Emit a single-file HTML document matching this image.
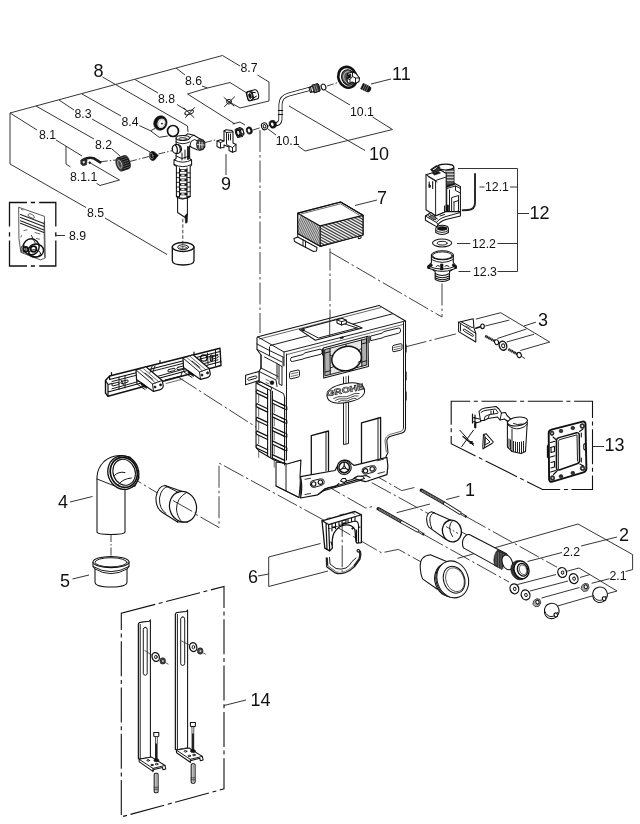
<!DOCTYPE html>
<html><head><meta charset="utf-8">
<style>
html,body{margin:0;padding:0;background:#fff;}
svg{display:block;filter:grayscale(1);}
text{font-family:"Liberation Sans",sans-serif;fill:#111;}
.s{font-size:12.3px;}
.b{font-size:18px;}
.l{fill:none;stroke:#2a2a2a;stroke-width:.95;}
.d{fill:none;stroke:#2a2a2a;stroke-width:.9;stroke-dasharray:22 3 2.5 3;}
.bx{fill:none;stroke:#111;stroke-width:1.1;stroke-dasharray:16 3 4 3;}
.p{fill:#fff;stroke:#111;stroke-width:1.05;stroke-linejoin:round;stroke-linecap:round;}
.n{fill:none;stroke:#111;stroke-width:.95;stroke-linejoin:round;stroke-linecap:round;}
.t{fill:none;stroke:#2a2a2a;stroke-width:.7;stroke-linejoin:round;stroke-linecap:round;}
.k{fill:#111;stroke:#111;stroke-width:.6;}
.g{fill:#999;stroke:#111;stroke-width:.7;}
</style></head><body>
<svg width="640" height="824" viewBox="0 0 640 824">
<rect width="640" height="824" fill="#fff"/>
<!--LEADERS-->
<g id="leaders" class="l">
<!-- 8 bracket -->
<path d="M10 164V113L222.500 55.500L240 66"/>
<path d="M257.500 75L269 82V101L240 108L226 100"/>
<path d="M10 113L37 130M56 140L82 156"/>
<path d="M66 146V164L70.500 167M96.500 183.300L100 185.500L119.500 180L90 162.800"/>
<path d="M36 106L94 139M112 149L120 156"/>
<path d="M59 100L74 110M92 119L150 152"/>
<path d="M82 94L121 116M139.400 125.600L150.600 130.800L155.400 128.200M150.600 130.800L159.200 137.300L167.800 136"/>
<path d="M135 79.500L158 93M177 104.500L186 110"/>
<path d="M102.500 77L187.500 126L188 132"/>
<path d="M10 164L86 207.500M105 218L167 254.500"/>
<path d="M176 68L185 75M202 86L207.500 88L230 82.500L246 92.500M207.500 88L187.500 94L235 124M232.500 124L240 122L245 125"/>
<path d="M226 154V175"/>
<path d="M55.800 235.500H65"/>
<!-- 10 -->
<path d="M268 129L276 135M298 146L305 151L392.500 129.500L372.500 117M350 105L325.500 90.500"/>
<path d="M289 106L365 150.500"/>
<path d="M371 84L391 79"/>
<path d="M355 205.500L377 200"/>
<!-- 12 -->
<path d="M458 168.500H517.500V271.500H497.500M517.500 213.500H529M479.500 187H484.500M510 187H517.500M497.500 243.500H517.500"/>
<path d="M457 243.500H470.300M458.500 271.500H470.300"/>
<!-- 3 -->
<path d="M475.800 319.100L500.700 312.700L549.700 342L520.400 350.500M509.300 320.100L485.200 326M523.900 326L535.900 322.200M526.500 329L497.300 338.500M534.200 334.200L506.700 342"/>
<!-- 13 -->
<path d="M592.500 446.500H604"/>
<!-- 4,5,6,14 -->
<path d="M70 502L92.500 496.500M72.500 579L89 575"/>
<path d="M258 576L268.700 574M320.500 543.500L268.700 557V586.500L328 571"/>
<path d="M224 705.500L246 700"/>
<!-- 1 -->
<path d="M459.400 496.200L446.200 499.600M430 504L396.600 512.700"/>
<!-- 2 -->
<path d="M617 537L581 546M562 552.500L527.500 561.500"/>
<path d="M457.500 558.400L578 524L632.600 554.500V569.600L625.500 571.500"/>
<path d="M579 568L617 591L608 593.500M579 568L566 571.500M590 574.500L580 577.500M609.500 578.700L591.600 583.300"/>
<path d="M556 574.500L517.500 584.500M568 581L530 591M579.500 587.500L541.500 598M592 596L557.500 606"/>
</g>
<!--LABELS-->
<g id="labels">
<text class="b" x="93.500" y="77">8</text>
<text class="s" x="39" y="139">8.1</text>
<text class="s" x="95" y="148.500">8.2</text>
<text class="s" x="74.500" y="118">8.3</text>
<text class="s" x="121.500" y="125.500">8.4</text>
<text class="s" x="70" y="180.500">8.1.1</text>
<text class="s" x="87" y="216.500">8.5</text>
<text class="s" x="185" y="84.500">8.6</text>
<text class="s" x="240.500" y="72">8.7</text>
<text class="s" x="158" y="103">8.8</text>
<text class="s" x="69" y="240">8.9</text>
<text class="b" x="221" y="190">9</text>
<text class="s" x="275.700" y="144.500">10.1</text>
<text class="s" x="350" y="115.500">10.1</text>
<text class="b" x="369" y="160">10</text>
<text class="b" x="392" y="80">11</text>
<text class="b" x="377" y="203.500">7</text>
<text class="b" x="529.500" y="218.500">12</text>
<text class="s" x="485" y="191">12.1</text>
<text class="s" x="472" y="248">12.2</text>
<text class="s" x="473" y="276">12.3</text>
<text class="b" x="538" y="326">3</text>
<text class="b" x="604.500" y="451">13</text>
<text class="b" x="58" y="508">4</text>
<text class="b" x="60" y="586.500">5</text>
<text class="b" x="248" y="582.500">6</text>
<text class="b" x="250.500" y="705.500">14</text>
<text class="b" x="465" y="496">1</text>
<text class="b" x="619" y="541">2</text>
<text class="s" x="563" y="556">2.2</text>
<text class="s" x="609.500" y="579.500">2.1</text>
</g>
<!--BOXES-->
<g id="boxes">
<path class="bx" style="stroke-dasharray:none;stroke-width:1.300" d="M9.500 226.600V202.500H27M30.800 202.500H35M39.200 202.500H55.800V226.600M55.800 232.200V236.400M55.800 240.600V266H39.200M35 266H30.800M27 266H9.500V240.600M9.500 236.400V232.200"/>
<path class="bx" style="stroke-dasharray:35 3.600 4 3.700;stroke-dashoffset:16" d="M451.200 401.300H592.500V489.500H542.500L451.200 443.700Z"/>
<path class="bx" style="stroke-dasharray:35 3.600 4 3.700" d="M121.300 613.200L224 586.500V788.800L121.300 816.900Z"/>
</g>
<!--AXES-->
<g id="axes" class="d">
<path d="M100.800 161.700L116 160M130 161.400L149 156.500M158.300 154L173 150.500" style="stroke-dasharray:7 2 1.500 2"/>
<path d="M205 142.500L217 139.500M253 130L261 127.500M268 126L270 125.500M327 86L338 82.500" style="stroke-dasharray:7 2 1.500 2"/>
<path d="M260 130V333"/>

<path d="M330 248.500V336"/>
<path d="M330 252L442 317"/>
<path d="M442 283.500V317"/>
<path d="M405 347L457.500 333.500"/>
<path d="M521.300 356.200L525 358.600" style="stroke-dasharray:none"/>
<path d="M178 377L256 427"/>
<path d="M122.500 472L160 494.500"/>
<path d="M174 502L219 527.500V463L342 530L381.500 552.800L398.400 549.400L453 579.500"/>
<path d="M111 534V562" style="stroke-dasharray:8 2 1.500 2"/>
<path d="M342.200 514.800V574"/>
<path d="M367.500 471L401.700 490.600L416.600 487"/>
<path d="M321 482.500L365.800 508.100L373.600 506.300"/>
<path d="M345 468L480 542"/>
<path d="M466.300 516.700L557 567.200"/>
<path d="M423.700 534.500L509 582"/>
</g>
<!-- 10_tank.svg -->
<g id="tank">
<path class="p" d="M276 462V486L299 497.500L301 476L301 460L287 463.500Z"/>
<path class="n" d="M286 464V491M276 486L286 491L299 497.500"/>
<path class="p" d="M257 339Q256.500 337 259 336.600L379 305.400L405.500 321V427.500Q405.500 432 402 433L391.500 436Q387 437.300 386.800 441L388 452.500L386 456.500L387 473L301 497L300 476L301 460L287 464L274 460L259 451L256 447.500V383L259 381V371.400L261 368V355L257 349.500Z"/>
<path class="n" d="M258 337L284 352L405.200 321"/>
<path class="n" d="M270.300 345.500L392.500 313.800"/>
<path class="t" d="M259.500 339L381 307.500"/>
<path class="n" d="M257 349.500L268 355L282 362M269.500 347V355.500M257 344L269.500 350.500L283 357"/>
<path class="n" d="M284 352V366M286.500 354V460M283 357V365.500"/>
<path class="t" d="M287 354.500L403 324.500"/>
<path class="n" d="M403.500 322.500V428"/>
<path class="p" d="M299.400 329.600L339.700 318.800L362.200 328.100L315.300 340.300Z"/>
<path class="n" d="M303.500 330.200L318.500 338L357 328M337 321L346.500 324.500L358.500 328.500M303.500 330.200L301.500 329.800"/>
<path class="p" d="M337 319.800L342 318.300L346.300 320.200V323.500L341.500 325L337 323Z"/>
<path class="n" d="M337 319.800L341.500 321.700L346.300 320.200M341.500 321.700V325"/>
<path class="k" d="M301.500 330L304.500 329.300L304 331.300ZM340 337.500L343 336.700L343.500 338L340.500 338.800Z"/>
<path class="d" d="M329.700 318V336.600"/>
<path class="p" d="M323.300 348L368 336.300L368.400 366.400L323.700 378Z"/>
<path class="g" style="fill:#e6e6e6;stroke:none" d="M325 349.500L366.500 338.700L366.800 365L325.300 375.800Z"/>
<path class="g" style="fill:#b0b0b0;stroke:none" d="M325 349.500L330 348.200L330.300 374.500L325.300 375.800ZM361.500 340L366.500 338.700L366.800 365L361.800 366.300Z"/>
<path class="n" d="M325 349.500L366.500 338.700L366.800 365L325.300 375.800Z"/>
<path class="n" d="M330 348.200L330.300 374.500M361.500 340L361.800 366.300M325 353L330 351.700M325.200 372L330.200 370.700M361.600 344L366.600 342.700M361.700 362L366.700 360.700"/>
<ellipse class="p" style="stroke-width:1.500" cx="346.600" cy="358.600" rx="15" ry="12" transform="rotate(-15 346.600 358.600)"/>
<path class="n" d="M330.200 355L333 356.500M361.600 348L358.500 351M330.300 368L334 366.500M361.700 360L358 362.500M346 346.500V344.500"/>
<path class="n" d="M366.700 336.700V343M369.200 336V342.500M322.500 349V355"/>
<path class="n" d="M291.500 357.500L303 354.500L305 352.800L320 349.200Q322 349 322 351L322 352.500Q322 354 320 354.500L305 358.200L303 359L292.500 361.500Q290.500 361.800 290.500 359.800Q290.300 358 291.500 357.500Z"/>
<path class="n" d="M371 336L382 333.200L384 331.500L398.500 328Q400.500 327.800 400.500 329.800L400.500 331Q400.500 332.800 398.500 333.300L384 337L382 338L371 340.600Z"/>
<path class="n" d="M289.500 373Q289.500 372 291 371.600L298 370Q299.500 369.800 299.500 371.200V375.500Q299.500 376.800 298 377.200L291 378.800Q289.500 379 289.500 377.800Z"/>
<path class="t" d="M291 374L298 372.300M291 376.500L298 374.800"/>
<path class="n" d="M392.600 346.500Q392.600 345.500 394 345.200L400.500 343.700Q402 343.500 402 344.800V348.500Q402 349.800 400.500 350.200L394 351.700Q392.600 352 392.600 350.800Z"/>
<path class="t" d="M394 347.500L400.500 346M394 349.700L400.500 348.200"/>
<path class="n" d="M343.500 377V385M348.500 376V384M343.500 402.500V444.500L348.500 443.500V401.500"/>
<path class="t" d="M346 376.500V384.500M346 402V444"/>
<g transform="translate(345.800 393) rotate(-11)">
<path class="p" d="M-19 0C-19 -6 -12 -9.500 0 -9.500C12 -9.500 19 -6 19 0C19 6 12 9.500 0 9.500C-12 9.500 -19 6 -19 0Z"/>
<text x="0" y="-.2" text-anchor="middle" style="font-size:8.3px;font-weight:bold;fill:#ddd;stroke:#111;stroke-width:.6;letter-spacing:.1px" transform="scale(1.22 1)">GROHE</text>
<path class="t" style="stroke:#111;stroke-width:.7" d="M-13 3Q-8 1.300 -4 3T4.500 3T13 3M-11.500 5.200Q-7.500 3.700 -4 5.200T4 5.200T11.500 5.200M-9 7.300Q-5.500 5.900 -3 7.300T3.500 7.300T9 7.300"/>
</g>
<path class="n" style="stroke-width:1.300" d="M311.300 476V435.600L328.500 431V470.500"/>
<path class="n" d="M326 431.800V471"/>
<path class="n" style="stroke-width:1.300" d="M361.500 463V422.800L380.600 417.500V458"/>
<path class="n" d="M378 418.300V458.500"/>
<path class="t" d="M403.500 428Q403.500 430.500 401 431.300L390.500 434.300Q385.200 436 385 441L386.300 452"/>
<path class="t" d="M406.500 345V352M406.500 372V380M406.500 392V400"/>
<path class="n" d="M261 355V368M264.500 357L277 363.500V379M261 368L278 376.500M259 371.400L276 380L277 386.500M259 381L271.500 387.500"/>
<path class="n" d="M279 365V384L282 385.500V366.500M277 363.500L282 366.500"/>
<path class="p" d="M245.600 375.300L259 371.400V380.600L245.600 384.800Z"/>
<path class="n" d="M248.500 378Q247.300 378.600 247.700 379.600Q248 380.600 249.300 380.200L256 378.200Q257.200 377.700 256.900 376.700Q256.500 375.700 255.300 376Z"/>
<circle class="k" cx="272" cy="382.700" r="1.900"/>
<path class="t" d="M266 379.500L270 381.500M266 382.500L269 384"/>
<path class="n" style="stroke-width:1.100" d="M257 383.500L267.600 389V455.800M270.700 390.500V457.500M272.400 391.300V458.300M284.600 397.500V464.900"/>
<path class="n" d="M257 383.500L261 382L272 387.500L270.700 390.500M272 387.500L283.500 393.500L284.600 397.500M267.600 389L270.700 390.500"/>
<path class="n" style="stroke-width:1.200" d="M257 390.0L267.600 395.0M257 393.4L267.600 398.4"/>
<path class="t" d="M258.700 394.4V402.6"/>
<path class="n" d="M257 390.0L256.200 391.7L257 393.4"/>
<path class="n" style="stroke-width:1.200" d="M257 403.7L267.600 408.7M257 407.1L267.600 412.1"/>
<path class="t" d="M258.700 408.1V416.3"/>
<path class="n" d="M257 403.7L256.200 405.4L257 407.1"/>
<path class="n" style="stroke-width:1.200" d="M257 417.4L267.600 422.4M257 420.8L267.600 425.8"/>
<path class="t" d="M258.700 421.8V430.0"/>
<path class="n" d="M257 417.4L256.200 419.1L257 420.8"/>
<path class="n" style="stroke-width:1.200" d="M257 431.1L267.600 436.1M257 434.5L267.600 439.5"/>
<path class="t" d="M258.700 435.5V443.7"/>
<path class="n" d="M257 431.1L256.200 432.8L257 434.5"/>
<path class="n" style="stroke-width:1.200" d="M257 444.8L267.600 449.8M257 448.2L267.600 453.2"/>
<path class="t" d="M258.700 449.2V457.4"/>
<path class="n" d="M257 444.8L256.200 446.5L257 448.2"/>
<path class="n" style="stroke-width:1.200" d="M272.400 399.8L284.600 405.6M272.400 403.2L284.600 409.0"/>
<path class="t" d="M274.200 404.2V412.4"/>
<path class="n" d="M280.500 403.7L286.900 406.5V410.0L282 407.8"/>
<path class="n" style="stroke-width:1.200" d="M272.400 413.5L284.600 419.3M272.400 416.9L284.600 422.7"/>
<path class="t" d="M274.200 417.9V426.1"/>
<path class="n" d="M280.500 417.4L286.900 420.2V423.7L282 421.5"/>
<path class="n" style="stroke-width:1.200" d="M272.400 427.2L284.600 433.0M272.400 430.6L284.600 436.4"/>
<path class="t" d="M274.200 431.6V439.8"/>
<path class="n" d="M280.500 431.1L286.900 433.9V437.4L282 435.2"/>
<path class="n" style="stroke-width:1.200" d="M272.400 440.9L284.600 446.7M272.400 444.3L284.600 450.1"/>
<path class="t" d="M274.200 445.3V453.5"/>
<path class="n" d="M280.500 444.8L286.900 447.6V451.1L282 448.9"/>
<path class="n" style="stroke-width:1.200" d="M272.400 454.6L284.600 460.4M272.400 458.0L284.600 463.8"/>
<path class="t" d="M274.200 459.0V467.2"/>
<path class="p" style="stroke-width:1.200" d="M300.500 476.600L335 470.500L338 465Q340 460.500 344.500 460Q349.500 460 352 464L354.300 465.400L386.900 457.300L387.900 466.400L386.900 474.600L365.500 481.700L357.400 479.600L337 485.700L324.900 488.800L317.800 494.900L300.500 498Q303 487 300.500 476.600Z"/>
<circle class="p" style="stroke-width:1.200" cx="344.200" cy="467.400" r="7"/>
<circle class="n" style="stroke-width:1.500" cx="344.200" cy="467.400" r="5.300"/>
<circle class="n" cx="344.200" cy="467.400" r="1.300"/>
<path class="n" style="stroke-width:1.200" d="M344.200 466.200L344.200 462.500M343.200 468L340 470M345.200 468L348.400 470"/>
<path class="n" d="M310.500 485Q309.500 481.500 313 480.600L320.500 478.800Q323.800 478.300 324.300 481.500Q324.600 484.500 321.500 485.400L314 487.400Q311 487.800 310.500 485Z"/>
<circle class="n" style="stroke-width:1.100" cx="313.700" cy="484" r="2.200"/><circle class="n" style="stroke-width:1.100" cx="320.400" cy="482.200" r="2.200"/>
<path class="n" d="M362.300 471.800Q361.300 468.300 364.800 467.400L372.300 465.600Q375.600 465.100 376.100 468.300Q376.400 471.300 373.300 472.200L365.800 474.200Q362.800 474.600 362.300 471.800Z"/>
<circle class="n" style="stroke-width:1.100" cx="365.500" cy="470.800" r="2.200"/><circle class="n" style="stroke-width:1.100" cx="372.200" cy="468.900" r="2.200"/>
<path class="t" style="stroke-width:1;stroke:#333" d="M305 479.300L310.500 478.300M305 494.500L310.500 493.500M377 460.800L383.500 459.200M378 473.500L384.500 471.800"/>
<path class="p" d="M340.500 481L342.500 478.500L345.500 478.500L346.500 481L344 482.500Z"/>
<path class="n" style="stroke-width:1.100" d="M318 494.500L324.500 490L328.500 487.500L335 487L339 483.500M346.500 481L352.500 479.500L356 477L366 475.500L370 477.500"/>
<path class="p" d="M354 478.500L358 476L363 476.500L364.500 478.500L360 480Z"/>
</g>
<!-- 20_p7.svg -->
<g id="p7">
<defs><clipPath id="c7l"><path d="M297.700 213.200L320.200 225.900V246.300L297.700 233.600Z"/></clipPath>
<clipPath id="c7f"><path d="M320.200 225.900L363 215.300V235L320.200 246.300Z"/></clipPath></defs>
<path class="p" d="M294 238.500L297.700 237L317 247.500L316.500 251L313.500 251.500L294.500 241.500Z"/>
<path class="n" d="M303 239.500V245.500M305.500 241V247M297.700 233.600V237"/>
<path class="p" d="M358 236.500L361 235.500V238L358.500 238.800Z"/>
<path class="p" d="M297.700 213.200L340.600 202L363 215.300V235L320.200 246.300L297.700 233.600Z"/>
<g clip-path="url(#c7l)"><rect x="295" y="210" width="28" height="40" fill="#d8d8d8"/>
<path d="M286.0 250L304.0 210" stroke="#333" stroke-width=".7"/>
<path d="M287.9 250L305.9 210" stroke="#333" stroke-width=".7"/>
<path d="M289.8 250L307.8 210" stroke="#333" stroke-width=".7"/>
<path d="M291.7 250L309.7 210" stroke="#333" stroke-width=".7"/>
<path d="M293.6 250L311.6 210" stroke="#333" stroke-width=".7"/>
<path d="M295.5 250L313.5 210" stroke="#333" stroke-width=".7"/>
<path d="M297.4 250L315.4 210" stroke="#333" stroke-width=".7"/>
<path d="M299.3 250L317.3 210" stroke="#333" stroke-width=".7"/>
<path d="M301.2 250L319.2 210" stroke="#333" stroke-width=".7"/>
<path d="M303.1 250L321.1 210" stroke="#333" stroke-width=".7"/>
<path d="M305.0 250L323.0 210" stroke="#333" stroke-width=".7"/>
<path d="M306.9 250L324.9 210" stroke="#333" stroke-width=".7"/>
<path d="M308.8 250L326.8 210" stroke="#333" stroke-width=".7"/>
<path d="M310.7 250L328.7 210" stroke="#333" stroke-width=".7"/>
<path d="M312.6 250L330.6 210" stroke="#333" stroke-width=".7"/>
<path d="M314.5 250L332.5 210" stroke="#333" stroke-width=".7"/>
<path d="M316.4 250L334.4 210" stroke="#333" stroke-width=".7"/>
<path d="M318.3 250L336.3 210" stroke="#333" stroke-width=".7"/>
<path d="M320.2 250L338.2 210" stroke="#333" stroke-width=".7"/>
<path d="M322.1 250L340.1 210" stroke="#333" stroke-width=".7"/>
<path d="M324.0 250L342.0 210" stroke="#333" stroke-width=".7"/>
<path d="M325.9 250L343.9 210" stroke="#333" stroke-width=".7"/>
<path d="M327.8 250L345.8 210" stroke="#333" stroke-width=".7"/>
<path d="M329.7 250L347.7 210" stroke="#333" stroke-width=".7"/>
<path d="M331.6 250L349.6 210" stroke="#333" stroke-width=".7"/>
<path d="M333.5 250L351.5 210" stroke="#333" stroke-width=".7"/>
<path d="M335.4 250L353.4 210" stroke="#333" stroke-width=".7"/>
<path d="M337.3 250L355.3 210" stroke="#333" stroke-width=".7"/>
<path d="M339.2 250L357.2 210" stroke="#333" stroke-width=".7"/>
<path d="M341.1 250L359.1 210" stroke="#333" stroke-width=".7"/>
<path d="M343.0 250L361.0 210" stroke="#333" stroke-width=".7"/>
<path d="M344.9 250L362.9 210" stroke="#333" stroke-width=".7"/>
<path d="M346.8 250L364.8 210" stroke="#333" stroke-width=".7"/>
<path d="M348.7 250L366.7 210" stroke="#333" stroke-width=".7"/>
<path d="M350.6 250L368.6 210" stroke="#333" stroke-width=".7"/>
<path d="M352.5 250L370.5 210" stroke="#333" stroke-width=".7"/>
<path d="M354.4 250L372.4 210" stroke="#333" stroke-width=".7"/>
<path d="M356.3 250L374.3 210" stroke="#333" stroke-width=".7"/>
<path d="M358.2 250L376.2 210" stroke="#333" stroke-width=".7"/>
<path d="M360.1 250L378.1 210" stroke="#333" stroke-width=".7"/>
</g>
<g clip-path="url(#c7f)"><rect x="318" y="212" width="48" height="38" fill="#f4f4f4"/>
<path d="M236.0 205L327.0 255" stroke="#444" stroke-width="1.25"/>
<path d="M241.3 205L332.3 255" stroke="#444" stroke-width="1.25"/>
<path d="M246.6 205L337.6 255" stroke="#444" stroke-width="1.25"/>
<path d="M251.9 205L342.9 255" stroke="#444" stroke-width="1.25"/>
<path d="M257.2 205L348.2 255" stroke="#444" stroke-width="1.25"/>
<path d="M262.5 205L353.5 255" stroke="#444" stroke-width="1.25"/>
<path d="M267.8 205L358.8 255" stroke="#444" stroke-width="1.25"/>
<path d="M273.1 205L364.1 255" stroke="#444" stroke-width="1.25"/>
<path d="M278.4 205L369.4 255" stroke="#444" stroke-width="1.25"/>
<path d="M283.7 205L374.7 255" stroke="#444" stroke-width="1.25"/>
<path d="M289.0 205L380.0 255" stroke="#444" stroke-width="1.25"/>
<path d="M294.3 205L385.3 255" stroke="#444" stroke-width="1.25"/>
<path d="M299.6 205L390.6 255" stroke="#444" stroke-width="1.25"/>
<path d="M304.9 205L395.9 255" stroke="#444" stroke-width="1.25"/>
<path d="M310.2 205L401.2 255" stroke="#444" stroke-width="1.25"/>
<path d="M315.5 205L406.5 255" stroke="#444" stroke-width="1.25"/>
<path d="M320.8 205L411.8 255" stroke="#444" stroke-width="1.25"/>
<path d="M326.1 205L417.1 255" stroke="#444" stroke-width="1.25"/>
<path d="M331.4 205L422.4 255" stroke="#444" stroke-width="1.25"/>
<path d="M336.7 205L427.7 255" stroke="#444" stroke-width="1.25"/>
<path d="M342.0 205L433.0 255" stroke="#444" stroke-width="1.25"/>
<path d="M347.3 205L438.3 255" stroke="#444" stroke-width="1.25"/>
<path d="M352.6 205L443.6 255" stroke="#444" stroke-width="1.25"/>
<path d="M357.9 205L448.9 255" stroke="#444" stroke-width="1.25"/>
<path d="M363.2 205L454.2 255" stroke="#444" stroke-width="1.25"/>
<path d="M368.5 205L459.5 255" stroke="#444" stroke-width="1.25"/>
<path d="M373.8 205L464.8 255" stroke="#444" stroke-width="1.25"/>
<path d="M379.1 205L470.1 255" stroke="#444" stroke-width="1.25"/>
<path d="M384.4 205L475.4 255" stroke="#444" stroke-width="1.25"/>
<path d="M389.7 205L480.7 255" stroke="#444" stroke-width="1.25"/>
</g>
<path class="n" style="stroke-width:1.2" d="M297.700 213.200L340.600 202L363 215.300L320.200 225.900ZM297.700 213.200V233.600L320.200 246.300L363 235V215.300M320.200 225.900V246.300"/>
<path class="t" d="M301 214L340.500 203.800L359.500 215.200"/>
</g>
<!-- 21_p12.svg -->
<g id="p12">
<!-- L rod -->
<path class="n" style="stroke-width:1.900;stroke:#222" d="M475 174V203Q475 209.500 468 210L462.600 210.300"/>
<!-- right lower box -->
<path class="p" d="M446.700 184L451 181.500L460.400 186.500V214L446.700 218Z"/>
<path class="n" d="M446.700 188.500L455.500 186L460.400 188.500M455.500 186V190.500L460.400 193"/>
<path class="k" d="M447 185L451 182.500L455 184.600L447 187.200Z"/>
<path class="n" d="M449.500 190V213M452 197.500L458.500 195.500V211L452 213ZM454 202L458.500 200.500M454 202V212"/>
<path class="k" d="M447 205H448.500V217H447Z"/>
<!-- cylinder -->
<path class="p" d="M437.400 167V183.500Q445.600 187 453.800 183.500V167Z"/>
<path class="g" style="fill:#555" d="M446 168.500H453.800V184L446 185.500Z"/>
<path d="M446 171.300H453.800M446 174.300H453.800M446 177.300H453.800M446 180.300H453.800" stroke="#eee" stroke-width="1.1" fill="none"/>
<ellipse class="p" cx="445.600" cy="167" rx="8.200" ry="2.900"/>
<!-- top clip -->
<path class="g" style="fill:#444" d="M430.500 169.500L436.500 165.500L440 167L439.500 170L441 171.500L437 174L433 172.500Z"/>
<path class="p" d="M431.500 169.800L436.500 166.500L438.500 167.500L433.500 171Z"/>
<!-- main box -->
<path class="p" d="M426 174.700L440.800 170.300L446.200 173.500V211.500L435.600 216L426 209.700Z"/>
<path class="n" d="M426 174.700L435.600 180.500L446.200 177M435.600 180.500V216M428 176.500L437 182"/>
<path class="k" d="M432.500 173.500L438.500 171.800L440.500 173L434.500 175Z"/>
<path class="n" style="stroke-width:1.1" d="M429.200 182V187.500M432.700 181.500V188.500"/>
<path class="k" d="M429 184.500L430.500 185.200V187.300L429 186.600Z"/>
<path class="n" d="M446.200 205V213.500M444.500 206V214"/>
<!-- base -->
<path class="p" d="M425.400 216L431 212.500L435.600 216L446.200 211.500L460.400 211.600V216L446 219.500Q440 221.500 438 224.500L436.900 226.900L425.400 220.300Z"/>
<path class="n" d="M425.400 216L436.500 222.500L438 224.500M436.500 222.500Q439 218.500 446 216.500L460.400 212.500M428 215.500L436 220M430 214.500L437.500 219M440 216L444.500 214.500"/>
<path class="g" style="fill:#777" d="M429 216.800L432 215L436 217.500L434 219.800Z"/>
<!-- connector -->
<path class="p" d="M437 226.500Q442 224 447.500 226.500L448.400 228V232.500Q442 236.500 435.800 232.500V228Z"/>
<path class="k" d="M437.500 227.500Q442 225.500 447 227.500V229.500Q442 231.500 437.500 229.500Z"/>
<path class="n" d="M435.800 230.500Q442 234.500 448.400 230.500"/>
<!-- washer 12.2 -->
<ellipse class="p" cx="442.100" cy="243" rx="9.600" ry="4"/>
<ellipse class="n" cx="442.100" cy="243.200" rx="5" ry="1.900"/>
<!-- 12.3 -->
<path class="p" d="M431.400 255.300V262.500L428 266L427.600 268L432.500 269.500L435.200 271.500V279.500Q442.300 283.500 449.500 279.500V271.500L452.500 269.500L456.600 268L456.200 266L453.300 262.500V255.300Z"/>
<ellipse class="p" cx="442.400" cy="255.300" rx="11" ry="4.500"/>
<ellipse class="n" cx="442.400" cy="255.600" rx="9.800" ry="3.700"/>
<path class="n" d="M431.400 259.500Q442.400 265.500 453.300 259.500M428 266Q442 272.500 456.200 266M432.500 269.500Q442.300 273.500 452.500 269.500"/>
<path class="k" d="M427.600 266.500L431.500 263.500L432.500 265.500L428.500 268.500ZM456.600 266.500L453 263.500L452 265.500L455.800 268.500ZM440.500 264H443V270H440.500Z"/>
<path class="n" style="stroke-width:1.100" d="M435.200 273.500Q442.300 277.500 449.500 273.500M435.200 275.700Q442.300 279.700 449.500 275.700M435.200 277.800Q442.300 281.800 449.500 277.800"/>
<path class="n" d="M436 266.500Q437.500 264.500 439.500 266M445 266Q447 264.500 449 266.500"/>
</g>

<!-- 30_p8.svg -->
<g id="p8">
<path class="n" style="stroke-width:2.600;stroke:#1a1a1a" d="M83.500 160Q88 156.800 93.500 158.200L100.300 162.300"/>
<path class="k" style="fill:#2a2a2a" d="M80.800 160L84.500 158L87 160L86.500 164.800L83 165.800L80.800 164Z"/>
<path d="M82.500 161.500L84.500 160.800L84.800 163L83 163.600Z" fill="#ddd"/>
<circle class="k" cx="89.700" cy="162.700" r=".9"/>
<g transform="rotate(-18 123 163.300)">
<path class="k" d="M119.500 156.300H126.500Q130 156.300 130 163.300Q130 170.300 126.500 170.300H119.500Z"/>
<ellipse class="g" style="fill:#444" cx="119.500" cy="163.300" rx="3.300" ry="7"/>
<ellipse class="n" style="stroke:#ddd;stroke-width:.6" cx="119.700" cy="163.300" rx="1.800" ry="4.200"/>
<path d="M122 157.6H129" stroke="#999" stroke-width=".5"/>
<path d="M122 159.8H129" stroke="#999" stroke-width=".5"/>
<path d="M122 162.0H129" stroke="#999" stroke-width=".5"/>
<path d="M122 164.2H129" stroke="#999" stroke-width=".5"/>
<path d="M122 166.4H129" stroke="#999" stroke-width=".5"/>
<path d="M122 168.6H129" stroke="#999" stroke-width=".5"/>
</g>
<path class="k" d="M150 152.500Q152 150.500 154.500 152L158.300 155.500L154.500 160Q152.500 161.500 150.500 159.500Q148.300 156 150 152.500Z"/>
<ellipse class="n" style="stroke:#bbb;stroke-width:.5" cx="151.500" cy="156" rx="1.500" ry="3" transform="rotate(-15 151.500 156)"/>
<ellipse class="k" cx="160.400" cy="123" rx="6.600" ry="7.300" transform="rotate(20 160.400 123)"/>
<ellipse class="p" cx="161.400" cy="123.300" rx="4.500" ry="5.400" transform="rotate(20 161.400 123.300)"/>
<ellipse class="n" style="stroke:#888;stroke-width:.5" cx="161.600" cy="123.400" rx="3.200" ry="4" transform="rotate(20 161.600 123.400)"/>
<circle class="k" cx="162" cy="123.600" r=".7"/>
<circle class="n" style="stroke-width:1.700" cx="173" cy="131" r="5.500"/>
<path class="n" d="M185 114Q184 112 186.500 111.300L191.500 110Q194 109.700 193.500 111.800Q193 113.500 191 113.800L187 115Q185.500 115.300 185 114Z"/>
<path class="n" style="stroke-width:.9" d="M184 108L194 117.500M194.500 107.500L185.500 117.500"/>
<circle class="n" cx="229" cy="101.700" r="2.400"/>
<path class="n" style="stroke-width:.9" d="M224 97.500L234 106M234.500 97L224.500 106.500"/>
<g transform="rotate(-15 252.500 95.300)">
<path class="p" d="M247 92Q247 90.500 249 90.500H256Q258.500 90.500 258.500 95.300Q258.500 100 256 100H249Q247 100 247 98.500Z"/>
<ellipse class="n" cx="249.700" cy="95.300" rx="2.600" ry="4.600"/>
<ellipse class="k" cx="249.900" cy="95.300" rx="1.300" ry="2.600"/>
<path class="n" d="M250 91L256 93.500M250 99.500L256 97M253 90.500V100"/>
</g>
<path class="p" d="M176.100 138V158.500L174 160V164.800L176.400 166.300V196.500L177.600 198V212.500L185.200 217.500L187.400 214.500V198L190.200 196.500V166.300L191.600 164.800V160L189.600 158.500V146L192 147.500L197 149.800L200 150.300L203 149.500L204.800 147V142L203.400 140.200L198.400 138L194 135.200L187.500 133.800L185.500 135.300Z"/>
<ellipse class="p" cx="182.800" cy="138" rx="6.700" ry="2.500"/>
<ellipse class="n" cx="182.800" cy="139" rx="4.200" ry="1.300"/>
<path class="n" d="M176.100 142Q182.800 145.500 189.600 142M189.600 138.500Q191 135.500 194 135.200M190 146L191 141.500L194.500 139.500L197.500 141"/>
<path class="g" style="fill:#444" d="M197.500 140L200.500 139.500L203.400 141L204.500 143.500L204.500 147L202.500 149.300L199.500 149.800L197 148L196.500 144Z"/>
<path d="M199.500 141.500V148.500M202 142V148.500M197 144.500L204.500 145" stroke="#fff" stroke-width=".7" fill="none"/>
<circle class="p" style="stroke-width:1.300" cx="176.800" cy="148.900" r="4.600"/>
<path class="n" style="stroke-width:1.200" d="M175.300 145Q178.300 148 177 153M178.500 144.800Q181.200 148 180 152"/>
<path class="n" d="M176.100 156L182 158.500L189.600 156M182 153V160M185 150V159"/>
<path class="n" style="stroke-width:1.800" d="M188 147V159"/>
<path class="n" d="M174.200 160Q182.800 164.500 191.600 160M174.200 164.500Q182.800 169 191.600 164.500"/>
<path class="n" d="M179.500 168V197M187 168V197"/>
<path class="k" d="M179.500 169.5H187V171.5H179.500Z"/>
<path class="n" d="M176.400 172.9L179.500 172.9M187 172.9L190.200 172.9"/>
<rect x="181.300" y="169.9" width="3.200" height="1.300" fill="#fff"/>
<path class="k" d="M179.500 174.2H187V176.2H179.500Z"/>
<path class="n" d="M176.400 177.6L179.500 177.6M187 177.6L190.200 177.6"/>
<rect x="181.300" y="174.6" width="3.200" height="1.300" fill="#fff"/>
<path class="k" d="M179.500 178.9H187V180.9H179.500Z"/>
<path class="n" d="M176.400 182.3L179.500 182.3M187 182.3L190.200 182.3"/>
<rect x="181.300" y="179.3" width="3.200" height="1.300" fill="#fff"/>
<path class="k" d="M179.500 183.6H187V185.6H179.500Z"/>
<path class="n" d="M176.400 187.0L179.500 187.0M187 187.0L190.200 187.0"/>
<rect x="181.300" y="184.0" width="3.200" height="1.300" fill="#fff"/>
<path class="k" d="M179.500 188.3H187V190.3H179.500Z"/>
<path class="n" d="M176.400 191.7L179.500 191.7M187 191.7L190.200 191.7"/>
<rect x="181.300" y="188.7" width="3.200" height="1.300" fill="#fff"/>
<path class="k" d="M179.500 193.0H187V195.0H179.500Z"/>
<path class="n" d="M176.400 196.4L179.500 196.4M187 196.4L190.200 196.4"/>
<rect x="181.300" y="193.4" width="3.200" height="1.300" fill="#fff"/>
<path class="n" d="M176.400 196.500Q183 200.500 190.200 196.500M177.600 198Q182.500 200.500 187.400 198"/>
<path class="k" d="M185 215.500L187.600 213.500L187.200 222.500L185.600 223.200Z"/>
<path class="p" d="M224 131L226 129.800L232 130.500L233 132V143L236 144.500V151L232.500 152.300L229 150.500V147L224 145V147.400L220 148L217 146.500V141L220.500 139.700L224 141Z"/>
<path class="n" d="M224 131L226.500 132.500V144.500L229 146M226.500 132.500L233 132M217 141L220.500 142.500V148M220.500 142.500L224 141M229 146L232.500 147.500V152.300M232.500 147.500L236 144.500M228.500 134V140M230.500 134V140"/>
<g transform="rotate(-15 239.500 132.300)">
<path class="p" d="M236 128.500L241 127.800L243.500 130V135L241 137H236.500Q235 132.500 236 128.500Z"/>
<ellipse class="k" cx="238.200" cy="132.400" rx="2.300" ry="3.900"/>
<ellipse cx="238.200" cy="132.400" rx="1" ry="2" fill="#fff"/>
<path class="n" d="M241 127.800V137M238 128.300L243.500 131M238 136.600L243.500 134"/></g>
<ellipse class="k" cx="249.300" cy="130.500" rx="3" ry="3.700" transform="rotate(-15 249.300 130.500)"/>
<ellipse cx="249" cy="130.600" rx="1.300" ry="2" fill="#fff" transform="rotate(-15 249 130.600)"/>
<ellipse class="n" style="stroke-width:1.100" cx="264.500" cy="126.300" rx="3" ry="3.500" transform="rotate(-20 264.500 126.300)"/>
<ellipse class="n" cx="264.500" cy="126.300" rx="1.300" ry="1.800" transform="rotate(-20 264.500 126.300)"/>
<path d="M274.500 124.300Q280 124.300 280.400 119.500L280.500 104Q280.800 96.800 288.500 94.600L311 88.500" fill="none" stroke="#111" stroke-width="4" stroke-linecap="round"/>
<path d="M274.500 124.300Q280 124.300 280.400 119.500L280.500 104Q280.800 96.800 288.500 94.600L311 88.500" fill="none" stroke="#fff" stroke-width="2.400" stroke-linecap="round"/>
<path class="n" style="stroke-width:1.100" d="M278.300 110.500H282.600M278.300 114.500H282.600"/>
<ellipse class="k" cx="272.800" cy="124.200" rx="3.500" ry="4" transform="rotate(-20 272.800 124.200)"/>
<ellipse cx="272.300" cy="124.400" rx="1.300" ry="1.900" fill="#fff" transform="rotate(-20 272.300 124.400)"/>
<g transform="rotate(-16 314.500 88.600)"><path class="p" d="M309.500 86H313V84.800H318.500L319.500 85.800V91.400L318.500 92.400H313V91.200H309.500Z"/><path class="k" style="fill:#333" d="M313 84.800H318.500L319.500 85.800V91.400L318.500 92.400H313Z"/><path d="M314.800 85V92.200M316.800 85V92.200" stroke="#bbb" stroke-width=".6"/><path class="n" d="M311 86V91.200"/></g>
<ellipse class="n" style="stroke-width:1.100" cx="323.500" cy="87" rx="2.300" ry="3" transform="rotate(-20 323.500 87)"/>
<ellipse class="p" style="stroke-width:2.600" cx="347.500" cy="77.300" rx="9" ry="10.600" transform="rotate(-22 347.500 77.300)"/>
<ellipse class="g" style="fill:#555;stroke-width:.9" cx="348.300" cy="77.500" rx="6.600" ry="8" transform="rotate(-22 348.300 77.500)"/>
<ellipse class="n" style="stroke:#ddd;stroke-width:.7" cx="348.600" cy="77.600" rx="4.800" ry="6" transform="rotate(-22 348.600 77.600)"/>
<path class="p" d="M347.500 73.500L352.500 72L356 73.500L359.500 78L359 81.500L355.500 83.500L352 82L350 83.500L347.500 82.500L347 78.500Z"/>
<path class="n" d="M352.500 72L352.500 76.500L355.500 78L355.500 83.500M355.500 78L359.500 78M347 78.500L350 79.500L350 83.500M350 79.500L352.500 76.500"/>
<path class="k" d="M347.800 75L350.800 74V77.500L347.800 78.500Z"/>
<g transform="rotate(25 366 88)"><path class="k" d="M361.500 85H368.500Q371 85 371 88Q371 91 368.500 91H361.500Z"/><path d="M363.500 85V91M365.500 85V91M367.500 85V91" stroke="#aaa" stroke-width=".6"/></g>
<path class="p" style="stroke-width:1.300" d="M172.300 247V260.500Q172.300 265 183.100 265Q194 265 194 260.500V247Z"/>
<ellipse class="p" style="stroke-width:1.300" cx="183.100" cy="247" rx="10.800" ry="4.500"/>
<ellipse class="n" cx="183.100" cy="247.200" rx="5.500" ry="2.400"/>
<ellipse class="t" cx="183.100" cy="247.800" rx="3.500" ry="1.300"/>
<path class="d" style="stroke-dasharray:3.500 2" d="M182.800 218.800V250"/>
</g>
<!-- 40_rail.svg -->
<g id="rail">
<path class="p" style="stroke-width:1.400" d="M105.500 380.500L109.600 376L220 348.200L221 365.500L108 396.300L105.500 393Z"/>
<path class="n" style="stroke-width:1.200" d="M109.600 376V379.500L220 351.500M108 392L221 361.500M105.500 380.500L108 384.500V396.300M108 384.500L112 383.500"/>
<path class="n" d="M119 377V389.500M125 375.500V388M121 380L123.500 385"/>
<path class="n" d="M112 381.500L218 354.500M112 388.800L218 359.800"/>
<path class="n" d="M113.0 383.5l5 -1.250q1.200 -.1 1.200 1t-1.200 1.400l-5 1.250q-1.200 .1 -1.200 -1t1.200 -1.400z"/>
<path class="n" d="M122.0 381.3l5 -1.250q1.200 -.1 1.200 1t-1.200 1.400l-5 1.250q-1.200 .1 -1.200 -1t1.200 -1.400z"/>
<path class="n" d="M169.0 369.5l5 -1.250q1.200 -.1 1.200 1t-1.200 1.400l-5 1.250q-1.200 .1 -1.200 -1t1.200 -1.400z"/>
<path class="n" d="M178.0 367.3l5 -1.250q1.200 -.1 1.200 1t-1.200 1.400l-5 1.250q-1.200 .1 -1.200 -1t1.200 -1.400z"/>
<path class="n" d="M212.0 356.8l5 -1.250q1.200 -.1 1.200 1t-1.200 1.400l-5 1.250q-1.200 .1 -1.200 -1t1.200 -1.400z"/>
<path class="n" style="stroke-width:1.200" d="M111.500 375V372.500M160 363V360.500M194 354.500V352"/>
<circle class="n" style="stroke-width:1.300" cx="203.800" cy="358" r="3.200"/>
<ellipse class="n" style="stroke-width:1.100" cx="211.400" cy="358" rx="1.300" ry="3"/>
<path class="n" d="M215.500 350V365.500M207.500 353L208 364"/>
<path class="p" style="stroke-width:1.200" d="M136.0 370.0L146.0 366.8L162.2 380.5L163.3 386.0Q163.0 389.0 159.5 389.8L153.5 391.4L136.5 379.4Z"/>
<path class="n" d="M136.0 370.0L152.5 384.0L162.2 380.5M152.5 384.0L153.5 391.4"/>
<path class="t" d="M139.3 369.0L155.5 383.0M142.6 367.9L158.8 381.8"/>
<circle class="k" cx="155.0" cy="387.0" r="1.100"/><circle class="k" cx="160.6" cy="384.9" r="1.100"/>
<path class="n" d="M136.5 379.4L137.0 384.0L145.0 389.5"/>
<path class="k" d="M141.0 382.5L146.5 386.3L146.5 388.6L141.0 384.8Z"/>
<path class="n" d="M145.0 373.0L153.0 379.5"/>
<path class="p" style="stroke-width:1.200" d="M183.0 358.0L193.0 354.8L209.2 368.5L210.3 374.0Q210.0 377.0 206.5 377.8L200.5 379.4L183.5 367.4Z"/>
<path class="n" d="M183.0 358.0L199.5 372.0L209.2 368.5M199.5 372.0L200.5 379.4"/>
<path class="t" d="M186.3 357.0L202.5 371.0M189.6 355.9L205.8 369.8"/>
<circle class="k" cx="202.0" cy="375.0" r="1.100"/><circle class="k" cx="207.6" cy="372.9" r="1.100"/>
<path class="n" d="M183.5 367.4L184.0 372.0L192.0 377.5"/>
<path class="k" d="M188.0 370.5L193.5 374.3L193.5 376.6L188.0 372.8Z"/>
<path class="n" d="M192.0 361.0L200.0 367.5"/>
<path class="n" d="M150 372.500L152 366.500M153 371.500L155 366M165 380L181 376L182 372"/>
<path class="t" d="M166 383.500L183 379"/>
</g>
<!-- 41_elbow.svg -->
<g id="elbow">
<!-- pipe -->
<path class="p" d="M97 532V477Q97.500 468 104 461.500Q110 456 120 455.500L130 457L137 466L139 478L135 486L125 489.500V532Q125 534.500 111 534.500Q97 534.500 97 532Z"/>
<path class="n" d="M97 479Q110 484.500 125 489.500"/>
<!-- ring -->
<g transform="rotate(-20 123.300 472.600)">
<ellipse class="p" style="stroke-width:1.300" cx="123.300" cy="472.600" rx="15.300" ry="17"/>
<ellipse class="n" style="stroke-width:1.700" cx="123.800" cy="472.600" rx="13.300" ry="15.200"/>
<ellipse class="n" style="stroke-width:1.100" cx="124.200" cy="472.600" rx="11" ry="13.200"/>
</g>
<path class="n" d="M114 476Q118 471 125 472.500M118.500 484.500Q123 478.500 131.500 478"/>
<!-- cap 5 -->
<path class="p" d="M93 562V566.500L95 569V582Q95 587 111 587Q127 587 127 582V569L129 566.500V562Z"/>
<ellipse class="p" cx="111" cy="562" rx="18" ry="5.600"/>
<ellipse class="n" cx="111" cy="562.300" rx="16" ry="4.600"/>
<path class="n" d="M93 566.500Q111 577 129 566.500M95 569Q111 578.500 127 569"/>
<!-- sleeve -->
<path class="p" d="M165 485.500Q158 486 156 497Q155.500 508 162.500 512.500L177.500 522L188 493.500Z"/>
<path class="n" d="M168.500 486.500Q161.500 487 159.500 498Q159 509 166 513.500"/>
<ellipse class="p" style="stroke-width:1.200" cx="183" cy="506.800" rx="13.400" ry="15.500" transform="rotate(-15 183 506.800)"/>
<path class="n" d="M186.500 492.500Q176.500 498 176.500 509Q177 516.500 181.500 521.500"/>
<path class="n" d="M165 485.500L178.500 492.500M177.500 522L187.800 522.200"/>

</g>

<!-- 42_clip6.svg -->
<g id="clip6">
<path class="p" style="stroke-width:1.300" d="M322 520.800L354.900 511.500L361.400 514.800V542.700L357 543.200L356 541.600L354.900 529.500Q352 524.500 346 524.800Q338 525.500 334 533Q331.500 538.500 332.400 548.100L329.700 550.900L324.800 548.100L323.500 535Z"/>
<path class="n" style="stroke-width:1.200" d="M322 520.800L328.600 524.600L361.400 514.800M328.600 524.600L329.700 550.900M326 523L327 549.500"/>
<path class="n" style="stroke-width:1.100" d="M328.600 528.500L354.900 521Q358 521 358.500 525L358.500 542.500M332 523.700V531M335.500 522.700V528.500M339 521.700V526M348 519.200V522.500M351.500 518.200V522M355 517.200V521.500M342 520.800L346 519.700V522.500L342 523.600Z"/>
<path class="n" style="stroke-width:1.200" d="M356.500 530V541M358.500 527.500L360 527M331 542L332.200 545"/>
<path class="t" d="M327 518.500L330 517.700M339.500 515L343.500 514M352 512.800L355 514.300"/>
<circle class="k" cx="352.500" cy="528.500" r=".8"/>
<!-- lower ring -->
<path class="n" style="stroke-width:2.300;stroke:#222" d="M326.800 558.500L327.200 566.500L335.200 572.300Q340 574 345 572.200Q350.500 570 354 566.500L359.500 559Q360.800 554.500 360 551.600L358 550.200"/>
<path class="n" style="stroke-width:.8;stroke:#eee" d="M327.200 566L335.200 571.800Q340 573.500 345 571.700Q350 569.800 353.500 566.300"/>
<path class="n" d="M329.500 557.500L330 564L336 568.500Q341 570 346 568Q350 565.500 352 561.500L356 558"/>
<circle class="p" cx="358.300" cy="550.800" r="1.300"/>
</g>

<!-- 43_p1p2.svg -->
<g id="p1p2">
<path d="M421.4 490.3L443.4 502.8" stroke="#1a1a1a" stroke-width="3.600" stroke-linecap="round" fill="none"/>
<path d="M421.6 490.4L443.4 502.8" stroke="#888" stroke-width="1.700" fill="none"/>
<path d="M421.6 490.4L443.4 502.8" stroke="#333" stroke-width="1.700" stroke-dasharray=".6 1.200" fill="none"/>
<path d="M443.4 502.8L460.7 513.6" stroke="#1a1a1a" stroke-width="3.500" fill="none"/>
<path d="M444.1 503.2L460.3 513.4" stroke="#fff" stroke-width="1.700" fill="none"/>
<path d="M460.7 513.6L466.7 517.0" stroke="#1a1a1a" stroke-width="2.300" fill="none"/>
<path d="M461.3 514.0L464.7 515.9" stroke="#fff" stroke-width=".8" fill="none"/>
<path d="M378.3 508.8L400.5 521.3" stroke="#1a1a1a" stroke-width="3.600" stroke-linecap="round" fill="none"/>
<path d="M378.5 508.9L400.5 521.3" stroke="#888" stroke-width="1.700" fill="none"/>
<path d="M378.5 508.9L400.5 521.3" stroke="#333" stroke-width="1.700" stroke-dasharray=".6 1.200" fill="none"/>
<path d="M400.5 521.3L418.3 531.3" stroke="#1a1a1a" stroke-width="3.500" fill="none"/>
<path d="M401.2 521.7L417.9 531.1" stroke="#fff" stroke-width="1.700" fill="none"/>
<path d="M418.3 531.3L424.2 534.7" stroke="#1a1a1a" stroke-width="2.300" fill="none"/>
<path d="M418.9 531.6L422.2 533.6" stroke="#fff" stroke-width=".8" fill="none"/>
<path class="p" d="M431.500 511.800Q426.500 513 426.600 519.500Q427 524.500 428.500 526.800L446 539.500L452 520.800Z"/>
<path class="n" d="M434.500 512.600Q429.700 514 429.800 520Q430.200 525 431.800 528.500"/>
<ellipse class="p" style="stroke-width:1.300" cx="451.900" cy="531" rx="9.500" ry="11" transform="rotate(-12 451.900 531)"/>
<path class="n" d="M452.500 520.500Q446.500 527 452.500 536.500"/>
<path class="p" d="M430.400 554.800Q420 556 420.200 566.300Q420.500 575 422.800 579.100L437.400 589.300L449 562.500Z"/>
<g transform="rotate(-20 451.800 579.700)">
<ellipse class="p" cx="448.800" cy="579.200" rx="13.800" ry="17"/>
<ellipse class="p" cx="450.500" cy="579.500" rx="14.300" ry="17.600"/>
<ellipse class="p" cx="452.800" cy="579.700" rx="15.500" ry="18.800"/>
<ellipse class="n" cx="454" cy="580.500" rx="10.500" ry="13.800"/>
<ellipse class="t" cx="454.800" cy="580.800" rx="9" ry="12.300"/>
</g>
<path class="p" d="M469.300 534.500L506.400 553.800L497.500 566.600L463.400 547.900Q461.500 543 463.500 538.500Q466 534 469.300 534.500Z"/>
<path class="k" style="fill:#333" d="M498 549.500L507.500 554.500L502 569.500L494.500 565.500Q493 560 494.500 555.500Q496 551 498 549.500Z"/>
<path d="M496 553L496 565M498.500 552L498.500 567M501 553L501 568.500M503.500 554L503.500 569" stroke="#999" stroke-width=".5" fill="none"/>
<ellipse class="p" cx="507.300" cy="562.400" rx="4.900" ry="7.700" transform="rotate(-20 507.300 562.400)"/>
<g transform="rotate(-20 520.500 570)">
<ellipse class="k" style="fill:#333" cx="519" cy="569.700" rx="8" ry="9.800"/>
<ellipse class="p" style="stroke-width:1.400" cx="521.500" cy="570.200" rx="7.300" ry="9"/>
<ellipse class="n" style="stroke-width:1.300" cx="522.500" cy="570.500" rx="5" ry="6.500"/>
<ellipse class="t" cx="523" cy="570.600" rx="3.600" ry="5"/>
</g>
<ellipse class="p" style="stroke-width:1.300" cx="562.2" cy="572.5" rx="4.300" ry="5" transform="rotate(-20 562.2 572.5)"/>
<ellipse class="n" cx="562.5" cy="572.7" rx="1.300" ry="1.600" transform="rotate(-20 562.2 572.5)"/>
<ellipse class="p" style="stroke-width:1.300" cx="573.7" cy="578.6" rx="4.300" ry="5" transform="rotate(-20 573.7 578.6)"/>
<ellipse class="n" cx="574.0" cy="578.8" rx="1.300" ry="1.600" transform="rotate(-20 573.7 578.6)"/>
<ellipse class="p" style="stroke-width:1.300" cx="514.4" cy="588.8" rx="4.300" ry="5" transform="rotate(-20 514.4 588.8)"/>
<ellipse class="n" cx="514.7" cy="589.0" rx="1.300" ry="1.600" transform="rotate(-20 514.4 588.8)"/>
<ellipse class="p" style="stroke-width:1.300" cx="525.6" cy="594.9" rx="4.300" ry="5" transform="rotate(-20 525.6 594.9)"/>
<ellipse class="n" cx="525.9" cy="595.1" rx="1.300" ry="1.600" transform="rotate(-20 525.6 594.9)"/>
<path class="g" style="fill:#aaa" d="M581.9 585.5l3 -2.200l3.300 .8l.9 3.600l-2 3.300l-3.700 .4l-2.300 -2.600z"/>
<ellipse class="p" cx="585.7" cy="586.9" rx="1.600" ry="2" transform="rotate(-20 585.5 586.7)"/>
<path class="g" style="fill:#aaa" d="M533.6 600.8l3 -2.200l3.300 .8l.9 3.600l-2 3.300l-3.700 .4l-2.300 -2.600z"/>
<ellipse class="p" cx="537.4" cy="602.2" rx="1.600" ry="2" transform="rotate(-20 537.2 602.0)"/>
<path class="p" d="M592.8 596.4q-1 -7.500 5.500 -9.200q7 -1 8.800 5.500q1 4 -1.500 6.500q-2 3.500 -7 3.200q-4.800 -1 -5.800 -6z"/>
<path class="n" d="M593.3 595.4q1.500 4.500 6 5q4.500 0 6.500 -4"/>
<ellipse class="p" cx="604.1" cy="598.7" rx="1.700" ry="2" transform="rotate(-20 604.1 598.7)"/>
<path class="p" d="M544.5 612.6q-1 -7.500 5.500 -9.200q7 -1 8.800 5.500q1 4 -1.500 6.500q-2 3.500 -7 3.200q-4.800 -1 -5.800 -6z"/>
<path class="n" d="M545.0 611.6q1.500 4.500 6 5q4.500 0 6.500 -4"/>
<ellipse class="p" cx="555.8" cy="614.9" rx="1.700" ry="2" transform="rotate(-20 555.8 614.9)"/>
</g>
<!-- 44_p3.svg -->
<g id="p3">
<path class="p" d="M458.600 322.200L473.200 318.700L474 328.200L475.800 333.400V342L458.600 331.600Z"/>
<path class="n" d="M458.600 322.200L475.800 333.400M461 321.700L472 327.500L473.500 327M460.500 324.500V331"/>
<path class="n" d="M464.500 329.200Q463.300 328.700 463.200 329.800Q463.200 330.700 464.200 331.300L472.300 336.200Q473.400 336.700 473.500 335.700Q473.500 334.700 472.500 334.200Z"/>
<path class="t" d="M466 326L470 328.300"/>
<!-- small bolt -->
<path class="n" style="stroke-width:1.500" d="M475.800 328.300L481 326.500"/>
<ellipse class="p" style="stroke-width:1.100" cx="482.500" cy="326.300" rx="1.800" ry="2.300"/>
<!-- screw 1 -->
<path d="M485.200 336L495 341.300" stroke="#222" stroke-width="2.800" stroke-dasharray="1.200 .6" fill="none"/>
<path d="M485.200 336L495 341.300" stroke="#222" stroke-width=".9" fill="none"/>
<ellipse class="p" style="stroke-width:1.100" cx="496.600" cy="342.200" rx="2" ry="2.500" transform="rotate(-20 496.600 342.200)"/>
<!-- washer -->
<ellipse class="p" style="stroke-width:1.400" cx="503" cy="345.700" rx="3.700" ry="4.600" transform="rotate(-20 503 345.700)"/>
<ellipse class="n" style="stroke-width:1" cx="503.200" cy="345.800" rx="1.500" ry="2" transform="rotate(-20 503.200 345.800)"/>
<!-- screw 2 -->
<path d="M508.400 349.300L517.500 354.200" stroke="#222" stroke-width="2.800" stroke-dasharray="1.200 .6" fill="none"/>
<path d="M508.400 349.300L517.500 354.200" stroke="#222" stroke-width=".9" fill="none"/>
<ellipse class="p" style="stroke-width:1.100" cx="519.200" cy="355" rx="2.100" ry="2.600" transform="rotate(-20 519.200 355)"/>
</g>

<!-- 45_p13.svg -->
<g id="p13">
<!-- crossed tool -->
<path class="n" style="stroke-width:1" d="M459.800 430.200L473.400 445.400M473.400 430.200L461.700 446.600"/>
<path class="n" style="stroke-width:1.300" d="M463 436.500L469 441.500L472.500 442M470 443L473.500 443.800"/>
<!-- triangle -->
<path class="p" d="M483.500 434.500L486 433.700L493.400 442L492 443.500L485 447.500L483 448.900L482.800 446Z"/>
<path class="n" d="M485.500 437.500L490 442L485.300 444.800ZM483.500 434.500L485 436L484.500 447.500"/>
<!-- lever assembly -->
<path class="p" d="M479 411.500Q481 408.500 485 408L496 406.500L499 409L501.500 413L505.500 412.500L507 415.500L513.500 421.500L511 424L504.500 419L500 420L497.500 417L488 418.500L484 420.500L480.500 420.500Z"/>
<path class="n" d="M481 412.500Q483 410.500 486 410.300L495.500 409L498 412.500M488 418.500L489.500 414.500L497.500 413.500M484 420.500L485 416.500L489.500 414.500M491 411V414M493.500 410.700V413.700M501.500 413L500 420"/>
<path class="n" style="stroke-width:1.200" d="M472.500 414V423M475 415V426.500M472.500 417.500L479.500 419M472.500 421.500L477 422.500M476 423L481 421.500"/>
<path class="k" d="M474.500 423.500H476V428H474.500Z"/>
<!-- container -->
<path class="p" d="M507.400 421V447L512 451.500L521 453.600L525.500 451.500L527.300 422Z"/>
<ellipse class="p" cx="517.500" cy="421.500" rx="10" ry="4.300" transform="rotate(-8 517.500 421.500)"/>
<path class="n" d="M507.400 424.500Q513 430 520 428.500Q526 427 527.300 424M512 429V451.500"/>
<path class="n" d="M513.500 423.500Q517 425.500 522 424"/>
<path d="M509 438.500V447.500M510.500 439.500V449M513.500 441V452M515.500 441.500V452.500M517.500 442V453M519.500 442V453M521.500 441.500V453M523.500 441V452.500" stroke="#222" stroke-width="1" fill="none"/>
<!-- frame -->
<path class="p" style="stroke-width:1.900" d="M548.700 433.500Q548.500 430.500 551.500 429.700L582.500 421.600Q585.300 421.200 585.500 424L586.400 468.500Q586.400 471.200 583.500 472.300L552.500 481.600Q549.300 482.300 549.100 479.300Z"/>
<path class="p" style="stroke-width:1.500" d="M556.400 441Q556.400 438.300 559 437.600L576.500 432.700Q579.100 432.300 579.200 434.800L579.600 460.500Q579.600 463 577 463.800L559.200 470Q556.500 470.600 556.400 468Z"/>
<path class="n" d="M558.300 469L558.300 441.500Q558.400 440 560 439.500L577 434.800L577.500 461"/>
<g fill="#333" stroke="#111" stroke-width=".6">
<ellipse cx="552" cy="433.300" rx="2" ry="2.300"/><ellipse cx="561" cy="431" rx="1.900" ry="1.700"/><ellipse cx="572.800" cy="428" rx="1.900" ry="1.700"/><ellipse cx="582.300" cy="426" rx="2.300" ry="2.500"/>
<ellipse cx="582.600" cy="468.300" rx="2.300" ry="2.500"/><ellipse cx="572.800" cy="473" rx="1.900" ry="1.700"/><ellipse cx="561" cy="476.300" rx="1.900" ry="1.700"/><ellipse cx="552.500" cy="478" rx="2.200" ry="2.500"/>
</g>
<g fill="#fff" stroke="none"><circle cx="552" cy="433.300" r=".8"/><circle cx="582.300" cy="426" r=".9"/><circle cx="582.600" cy="468.300" r=".9"/><circle cx="552.500" cy="478" r=".8"/></g>
<path class="n" style="stroke-width:1.100" d="M550.500 442.500L555 441.300M550.500 447.500L555 446.300M551 447.500V452.500L554.500 451.500V446.500M550.500 457L555 455.800M551 462.500L554.500 461.500V467L551 468M550.700 472L555.500 470.500M553 437L556.500 440M553.500 474.500L557 471"/>
<path class="n" style="stroke-width:1.100" d="M581.300 433V437M581.300 458V462M579.500 431.500L583 429M579.800 464L583.500 466M585 443.500L583.800 444.500V449L585 450"/>
<path class="n" style="stroke-width:1.300" d="M548.500 445L547.500 446V457L548.500 458"/>
</g>

<!-- 46_p14.svg -->
<g id="p14">
<path class="p" d="M138.4 758.5L138.4 623.9L139.9 622.6L149.4 621.6V757.0L150.4 757.0Z"/>
<path class="p" d="M138.4 758.5V623.9L139.6 622.4L149.2 621.3L150.4 619.8V757.0"/>
<path class="n" d="M140.2 624.4V759.3"/>
<rect class="n" x="143.3" y="627.4" width="3.9" height="47.8" rx="1.9"/>
<path class="p" d="M139.0 759.2l12.700 -2.100l13.300 8.400l.8 3.500l-2.800 .8l-.5 -2.400l-8.600 2.200l-1.300 1.500l-13.300 -9.200z"/>
<path class="n" d="M139.0 759.2l14 9.200l12 -2.900M153.0 768.4v3.400"/>
<ellipse class="n" cx="148.2" cy="760.4" rx="1.300" ry=".8"/><ellipse class="n" cx="156.6" cy="764.1" rx="1.300" ry=".8"/><ellipse class="n" cx="152.0" cy="765.0" rx="1.200" ry=".7"/>
<path class="p" d="M153.8 732.5h5v3.600l-.8 .6h-3.400l-.8 -.6z"/>
<path d="M156.3 736.7V760.2" stroke="#222" stroke-width="2.600" fill="none"/>
<path d="M156.3 737.1V743.5" stroke="#fff" stroke-width="1.100" fill="none"/>
<ellipse class="k" cx="156.4" cy="760.2" rx="2.600" ry="1.500"/>
<rect class="p" x="154.2" y="773.3" width="3.900" height="19.500" rx="1.200"/>
<path class="t" d="M156.1 774.3v17M154.2 787.3h3.900M154.2 789.3h3.900"/>
<path class="t" d="M144.7 650.6L152.7 655.5"/>
<ellipse class="p" style="stroke-width:1.300" cx="155.7" cy="657.0" rx="3.600" ry="4.500" transform="rotate(-15 155.7 657.0)"/>
<ellipse class="n" cx="155.9" cy="657.0" rx="1.300" ry="1.700"/>
<ellipse class="k" style="fill:#444" cx="162.7" cy="660.9" rx="2.800" ry="3.200"/>
<ellipse cx="162.9" cy="661.0" rx=".9" ry="1.100" fill="#ccc"/>
<path class="t" d="M165.2 662.5l3 1.600"/>
<path class="p" d="M175.4 749.4L175.4 614.0L176.9 612.7L186.6 611.8V747.3L187.6 747.3Z"/>
<path class="p" d="M175.4 749.4V614.0L176.6 612.5L186.4 611.5L187.6 610.0V747.3"/>
<path class="n" d="M177.4 614.5V750.2"/>
<rect class="n" x="180.7" y="616.9" width="4.0" height="48.5" rx="2.0"/>
<path class="p" d="M176.3 750.1l12.700 -2.100l13.300 8.400l.8 3.500l-2.800 .8l-.5 -2.400l-8.600 2.200l-1.300 1.500l-13.300 -9.200z"/>
<path class="n" d="M176.3 750.1l14 9.200l12 -2.900M190.3 759.3v3.400"/>
<ellipse class="n" cx="185.5" cy="751.3" rx="1.300" ry=".8"/><ellipse class="n" cx="193.9" cy="755.0" rx="1.300" ry=".8"/><ellipse class="n" cx="189.3" cy="755.9" rx="1.200" ry=".7"/>
<path class="p" d="M190.4 722.4h5v3.600l-.8 .6h-3.400l-.8 -.6z"/>
<path d="M192.9 726.6V751.1" stroke="#222" stroke-width="2.600" fill="none"/>
<path d="M192.9 727.0V733.4" stroke="#fff" stroke-width="1.100" fill="none"/>
<ellipse class="k" cx="193.0" cy="751.1" rx="2.600" ry="1.500"/>
<rect class="p" x="191.2" y="763.8" width="3.900" height="19.500" rx="1.200"/>
<path class="t" d="M193.1 764.8v17M191.2 777.8h3.900M191.2 779.8h3.900"/>
<path class="t" d="M181.3 640.8L190.2 645.6"/>
<ellipse class="p" style="stroke-width:1.300" cx="193.2" cy="647.1" rx="3.600" ry="4.500" transform="rotate(-15 193.2 647.1)"/>
<ellipse class="n" cx="193.4" cy="647.1" rx="1.300" ry="1.700"/>
<ellipse class="k" style="fill:#444" cx="200.2" cy="651.0" rx="2.800" ry="3.200"/>
<ellipse cx="200.4" cy="651.1" rx=".9" ry="1.100" fill="#ccc"/>
<path class="t" d="M202.7 652.6l3 1.600"/>
</g>
<!-- 47_bag.svg -->
<g id="bag">
<path class="p" style="stroke-width:.7" d="M19 207.400L44.400 216.300L45.300 258L40.600 259.900L20.900 252.400L19 239.200Z"/>
<path class="t" style="stroke:#222;stroke-width:1.100" d="M20.500 214.500L43.900 223.500M20.500 217.500L43.900 226.500M20.500 220.800L43.900 230M20.500 223.300L43.900 232.500"/>
<path class="t" d="M28 214.500Q29 213 31 214Q34 215 34.500 217.500L33 218.500L29.500 217ZM21.500 209.500L23 210M24 230.500L27 230M35 232.500L40 234M36.500 238.500L39.500 239.200M21 237L21.500 235.500M44 222L44.500 257"/>
<circle class="n" style="stroke-width:1.400" cx="31.200" cy="246.800" r="8"/>
<ellipse class="n" style="stroke-width:1.400" cx="36" cy="250.500" rx="7.500" ry="6.500"/>
<ellipse class="n" style="stroke-width:1" cx="34.500" cy="253.500" rx="6" ry="3.800"/>
<circle class="n" style="stroke-width:1.800" cx="25.600" cy="249.200" r="2.400"/>
<circle class="n" style="stroke-width:1.800" cx="33.500" cy="249" r="2.900"/>
<ellipse class="n" style="stroke-width:.8" cx="23.500" cy="249" rx="2.500" ry="3.500"/>
<path class="n" style="stroke-width:.9" d="M31.500 235.500L33.500 240L36 244"/>
</g>

<!-- 80_overlay.svg -->
<g id="overlay" class="d">
<path d="M173 500.500L196 513.500"/>
<path d="M446 526.500L458 533.500" style="stroke-dasharray:6 2 1.500 2"/>
</g>

</svg>
</body></html>
